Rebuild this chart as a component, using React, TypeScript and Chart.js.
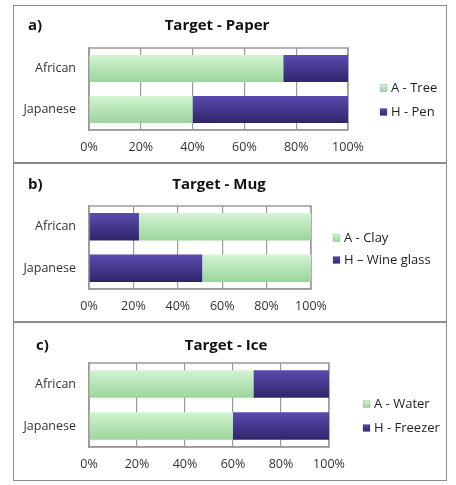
import React, { useEffect, useRef } from 'react';
import { Chart, registerables } from 'chart.js';
Chart.register(...registerables);

// ---- data ----
const categories = ['African', 'Japanese'];
const xTickStep = 20;
const xMax = 100;

const paperTree = [75, 40];
const paperPen = [25, 60];
const mugWineGlass = [22.5, 51];
const mugClay = [77.5, 49];
const iceWater = [68.5, 60];
const iceFreezer = [31.5, 40];

// ---- styles ----
const GREEN = ['#d2f4d2', '#9cd49c'];
const PURPLE = ['#5a4bb0', '#2e266a'];
const FONT = "'Open Sans', 'DejaVu Sans', sans-serif";
const GRID = '#9a9a9a';
const BAR_PCT = 0.66;
const W = 431;

type Series = { label: string; data: number[]; colors: string[] };
type Panel = {
  tag: string;
  title: string;
  top: number;
  height: number;
  stack: Series[];
  legend: number[];
  area: { right: number; top: number; bottom: number };
  titleX: number;
  titleY: number;
  tagX: number;
  legendX: number;
  legendY: number[];
};

const panels: Panel[] = [
  {
    tag: 'a)',
    title: 'Target - Paper',
    top: 6,
    height: 157,
    stack: [
      { label: 'A - Tree', data: paperTree, colors: GREEN },
      { label: 'H - Pen', data: paperPen, colors: PURPLE },
    ],
    legend: [0, 1],
    area: { right: 334, top: 42, bottom: 124 },
    titleX: 203,
    titleY: 20,
    tagX: 14,
    legendX: 366,
    legendY: [82, 106],
  },
  {
    tag: 'b)',
    title: 'Target - Mug',
    top: 164,
    height: 158,
    stack: [
      { label: 'H \u2013 Wine glass', data: mugWineGlass, colors: PURPLE },
      { label: 'A - Clay', data: mugClay, colors: GREEN },
    ],
    legend: [1, 0],
    area: { right: 297, top: 42, bottom: 125 },
    titleX: 205,
    titleY: 21,
    tagX: 14,
    legendX: 319,
    legendY: [74, 96],
  },
  {
    tag: 'c)',
    title: 'Target - Ice',
    top: 323,
    height: 157,
    stack: [
      { label: 'A - Water', data: iceWater, colors: GREEN },
      { label: 'H - Freezer', data: iceFreezer, colors: PURPLE },
    ],
    legend: [0, 1],
    area: { right: 315, top: 40, bottom: 124 },
    titleX: 212,
    titleY: 23,
    tagX: 22,
    legendX: 349,
    legendY: [81, 105],
  },
];

const gradient = (colors: string[]) => (ctx: any) => {
  const chart = ctx.chart;
  const ys = chart.scales?.y;
  if (!ys || ctx.type !== 'data' || !ys.height) return colors[1];
  const c = ys.getPixelForValue(ctx.dataIndex);
  const half = ((ys.height / categories.length) * BAR_PCT) / 2;
  const g = chart.ctx.createLinearGradient(0, c - half, 0, c + half);
  g.addColorStop(0, colors[0]);
  g.addColorStop(1, colors[1]);
  return g;
};

function PanelChart({ p }: { p: Panel }) {
  const ref = useRef<HTMLCanvasElement | null>(null);
  useEffect(() => {
    if (!ref.current) return;
    const deco = {
      id: 'deco',
      beforeDatasetsDraw(chart: any) {
        const { ctx, chartArea: a } = chart;
        ctx.save();
        ctx.strokeStyle = GRID;
        ctx.lineWidth = 1.5;
        ctx.strokeRect(a.left, a.top, a.right - a.left, a.bottom - a.top);
        ctx.restore();
      },
      afterDraw(chart: any) {
        const { ctx } = chart;
        ctx.save();
        ctx.fillStyle = '#111';
        ctx.font = `bold 15px ${FONT}`;
        ctx.textBaseline = 'middle';
        ctx.textAlign = 'center';
        ctx.fillText(p.title, p.titleX, p.titleY);
        ctx.textAlign = 'left';
        ctx.fillText(p.tag, p.tagX, p.titleY);
        ctx.font = `13px ${FONT}`;
        p.legend.forEach((si, k) => {
          const s = p.stack[si];
          const y = p.legendY[k];
          const g = ctx.createLinearGradient(0, y - 4, 0, y + 4);
          g.addColorStop(0, s.colors[0]);
          g.addColorStop(1, s.colors[1]);
          ctx.fillStyle = g;
          ctx.fillRect(p.legendX, y - 3.5, 7, 7);
          ctx.strokeStyle = 'rgba(0,0,0,0.25)';
          ctx.lineWidth = 0.5;
          ctx.strokeRect(p.legendX, y - 3.5, 7, 7);
          ctx.fillStyle = '#222';
          ctx.fillText(s.label, p.legendX + 11, y);
        });
        ctx.restore();
      },
    };
    const chart = new Chart(ref.current, {
      type: 'bar',
      data: {
        labels: categories,
        datasets: p.stack.map((s) => ({
          label: s.label,
          data: s.data,
          backgroundColor: gradient(s.colors),
          borderWidth: 0,
          categoryPercentage: 1,
          barPercentage: BAR_PCT,
        })),
      },
      options: {
        indexAxis: 'y',
        animation: false,
        responsive: true,
        maintainAspectRatio: false,
        events: [],
        layout: {
          padding: {
            left: 0,
            right: W - p.area.right,
            top: p.area.top,
            bottom: p.height - p.area.bottom - 22,
          },
        },
        plugins: {
          legend: { display: false },
          title: { display: false },
          tooltip: { enabled: false },
        },
        scales: {
          x: {
            stacked: true,
            min: 0,
            max: xMax,
            afterFit: (s: any) => {
              s.height = 22;
            },
            ticks: {
              stepSize: xTickStep,
              callback: (v: any) => `${v}%`,
              color: '#333',
              font: { family: FONT, size: 12.5 },
              padding: 10,
              maxRotation: 0,
            },
            grid: { color: GRID, lineWidth: 1.2, drawTicks: false },
            border: { color: GRID, width: 1.5 },
          },
          y: {
            stacked: true,
            afterFit: (s: any) => {
              s.width = 75;
            },
            ticks: {
              color: '#333',
              font: { family: FONT, size: 12.5 },
              padding: 13,
            },
            grid: { display: false, drawTicks: false },
            border: { color: GRID, width: 1.5 },
          },
        },
      },
      plugins: [deco],
    } as any);
    return () => chart.destroy();
  }, [p]);
  return (
    <div
      style={{
        position: 'absolute',
        left: 14,
        top: p.top,
        width: W,
        height: p.height,
      }}
    >
      <canvas ref={ref} />
    </div>
  );
}

export default function App() {
  return (
    <div
      style={{
        position: 'absolute',
        left: 0,
        top: 0,
        width: 456,
        height: 485,
        background: '#fff',
      }}
    >
      <div
        style={{
          position: 'absolute',
          left: 13,
          top: 5,
          width: 434,
          height: 476,
          border: '1.5px solid #8c8c8c',
          boxSizing: 'border-box',
        }}
      />
      <div style={{ position: 'absolute', left: 13, top: 162, width: 434, height: 1.5, background: '#8c8c8c' }} />
      <div style={{ position: 'absolute', left: 13, top: 321, width: 434, height: 1.5, background: '#8c8c8c' }} />
      {panels.map((p) => (
        <PanelChart key={p.tag} p={p} />
      ))}
    </div>
  );
}
